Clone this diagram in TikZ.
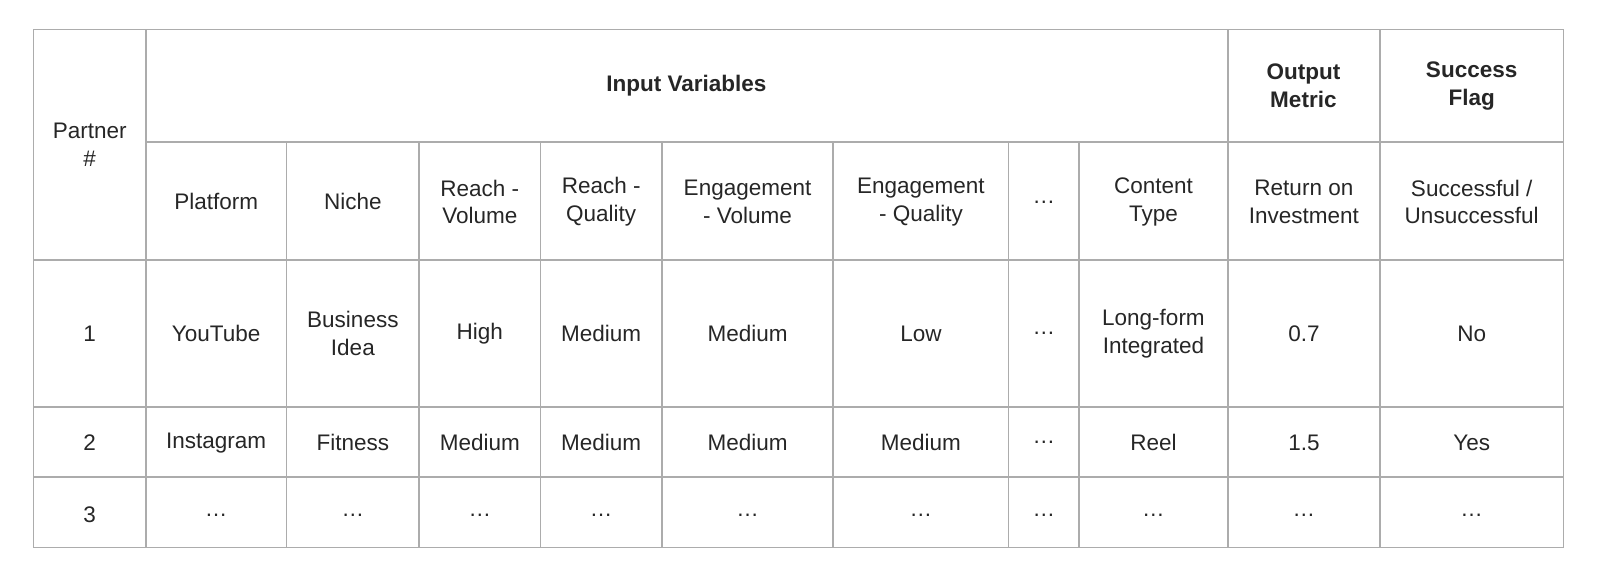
\documentclass[tikz,border=0pt]{standalone}
\usepackage{fontspec}
\setmainfont{Liberation Sans}
\begin{document}
\begin{tikzpicture}[x=0.01cm,y=-0.01cm,
  grid/.style={draw=gray!65,line width=0.45pt},
  cell/.style={align=center,font=\fontsize{6.4}{7.9}\selectfont,text=black!85,inner sep=0},
  hcell/.style={cell,font=\fontsize{6.4}{7.9}\selectfont\bfseries}]
\def\xs{{33,143,281,411,530,649,817,989,1058,1204,1353,1533}}
\begin{scope}[x=0.0102cm,y=-0.0102cm]
\draw[grid] (33,29) rectangle (1533,537);
\draw[grid] (143,139) -- (1533,139);
\draw[grid] (33,255) -- (1533,255);
\draw[grid] (33,399) -- (1533,399);
\draw[grid] (33,468) -- (1533,468);
\foreach \x in {143,1204,1353} \draw[grid] (\x,29) -- (\x,537);
\foreach \x in {281,411,530,649,817,989,1058} \draw[grid] (\x,139) -- (\x,537);
\node[cell] (partner) at (88,142) {Partner\\\#};
\node[hcell] (inputs) at (673,84) {Input Variables};
\node[hcell] (output) at (1278,84) {Output\\Metric};
\node[hcell] (success) at (1443,84) {Success\\Flag};
\foreach \t [count=\i] in {Platform,Niche,{Reach -\\Volume},{Reach -\\Quality},{Engagement\\- Volume},{Engagement\\- Quality},\dots,{Content\\Type},{Return on\\Investment},{Successful /\\Unsuccessful}}{
  \pgfmathsetmacro\xa{\xs[\i]}\pgfmathsetmacro\xb{\xs[\i+1]}
  \node[cell] (h\i) at ({(\xa+\xb)/2},198) {\t};
}
\foreach \t [count=\i from 0] in {1,YouTube,{Business\\Idea},High,Medium,Medium,Low,\dots,{Long-form\\Integrated},0.7,No}{
  \pgfmathsetmacro\xa{\xs[\i]}\pgfmathsetmacro\xb{\xs[\i+1]}
  \node[cell] (a\i) at ({(\xa+\xb)/2},327) {\t};
}
\foreach \t [count=\i from 0] in {2,Instagram,Fitness,Medium,Medium,Medium,Medium,\dots,Reel,1.5,Yes}{
  \pgfmathsetmacro\xa{\xs[\i]}\pgfmathsetmacro\xb{\xs[\i+1]}
  \node[cell] (b\i) at ({(\xa+\xb)/2},434) {\t};
}
\foreach \t [count=\i from 0] in {3,\dots,\dots,\dots,\dots,\dots,\dots,\dots,\dots,\dots,\dots}{
  \pgfmathsetmacro\xa{\xs[\i]}\pgfmathsetmacro\xb{\xs[\i+1]}
  \node[cell] (c\i) at ({(\xa+\xb)/2},505) {\t};
}
\end{scope}
\pgfresetboundingbox
\path[use as bounding box] (0,0) rectangle (1600,580);
\end{tikzpicture}
\end{document}
